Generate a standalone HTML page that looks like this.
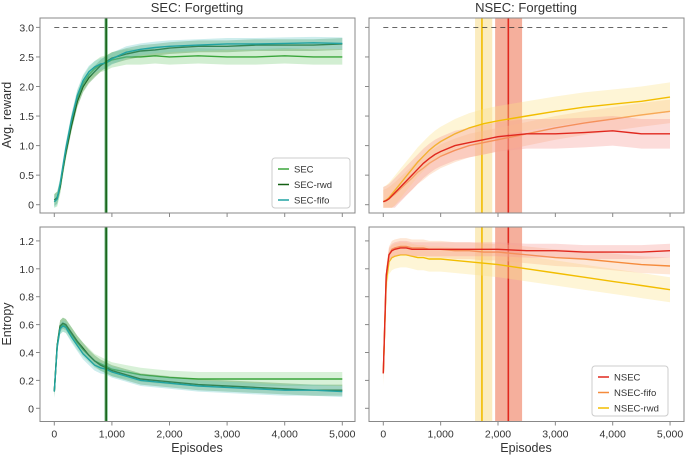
<!DOCTYPE html>
<html><head><meta charset="utf-8">
<style>
html,body{margin:0;padding:0;background:#fff;}
svg{display:block;font-family:"Liberation Sans",sans-serif;}
text{fill:#333;}
</style></head>
<body>
<svg id="chart" width="685" height="457" viewBox="0 0 685 457" xmlns="http://www.w3.org/2000/svg"></svg>
<script>
const episodes = [0,50,100,150,200,300,400,500,600,700,800,900,1000,1250,1500,1750,2000,2500,3000,3500,4000,4500,5000];
const secReward     = [0.05,0.1,0.3,0.6,0.9,1.4,1.8,2.05,2.2,2.3,2.37,2.4,2.45,2.5,2.5,2.52,2.5,2.52,2.5,2.5,2.52,2.5,2.5];
const secRwdReward  = [0.08,0.12,0.3,0.6,0.88,1.35,1.75,2.0,2.15,2.25,2.35,2.42,2.48,2.55,2.6,2.62,2.65,2.68,2.68,2.7,2.7,2.7,2.72];
const secFifoReward = [0.05,0.1,0.35,0.65,0.95,1.45,1.85,2.1,2.25,2.33,2.38,2.4,2.47,2.58,2.63,2.66,2.68,2.7,2.72,2.72,2.73,2.74,2.73];
const secEnt     = [0.12,0.45,0.58,0.6,0.59,0.53,0.47,0.42,0.38,0.34,0.32,0.3,0.28,0.26,0.24,0.23,0.22,0.21,0.21,0.21,0.21,0.21,0.21];
const secRwdEnt  = [0.12,0.45,0.59,0.61,0.6,0.54,0.48,0.43,0.38,0.34,0.31,0.29,0.27,0.24,0.21,0.2,0.19,0.17,0.16,0.15,0.14,0.13,0.13];
const secFifoEnt = [0.12,0.44,0.57,0.59,0.58,0.51,0.45,0.39,0.35,0.31,0.29,0.28,0.26,0.23,0.2,0.19,0.18,0.16,0.15,0.14,0.13,0.13,0.12];
const nsecReward     = [0.05,0.07,0.1,0.15,0.2,0.3,0.4,0.5,0.6,0.7,0.78,0.85,0.9,1.0,1.05,1.1,1.15,1.2,1.2,1.22,1.25,1.2,1.2];
const nsecFifoReward = [0.05,0.07,0.1,0.14,0.18,0.27,0.36,0.45,0.55,0.62,0.7,0.76,0.82,0.92,1.0,1.05,1.1,1.2,1.3,1.38,1.45,1.52,1.58];
const nsecRwdReward  = [0.05,0.08,0.12,0.18,0.24,0.36,0.48,0.6,0.72,0.82,0.92,1.0,1.07,1.2,1.3,1.37,1.42,1.5,1.58,1.65,1.7,1.75,1.82];
const nsecEnt     = [0.25,0.95,1.1,1.13,1.14,1.15,1.15,1.14,1.14,1.14,1.14,1.14,1.14,1.14,1.14,1.14,1.14,1.13,1.13,1.12,1.12,1.12,1.13];
const nsecFifoEnt = [0.25,0.95,1.1,1.14,1.15,1.16,1.16,1.15,1.15,1.15,1.14,1.14,1.14,1.13,1.13,1.12,1.12,1.1,1.08,1.07,1.05,1.03,1.02];
const nsecRwdEnt  = [0.25,0.9,1.05,1.08,1.09,1.1,1.1,1.09,1.08,1.08,1.07,1.07,1.07,1.06,1.05,1.04,1.03,1.0,0.97,0.94,0.91,0.88,0.85];
const rewardTicks = [0,0.5,1.0,1.5,2.0,2.5,3.0];
const rewardTickLabels = ["0","0.5","1.0","1.5","2.0","2.5","3.0"];
const entropyTicks = [0,0.2,0.4,0.6,0.8,1.0,1.2];
const entropyTickLabels = ["0","0.2","0.4","0.6","0.8","1.0","1.2"];
const xTicks = [0,1000,2000,3000,4000,5000];
const xTickLabels = ["0","1,000","2,000","3,000","4,000","5,000"];
const secSwitch = [870,900,930];
const nsecRwdSwitch = [1600,1720,1900];
const nsecSwitch = [1950,2180,2420];

const NS="http://www.w3.org/2000/svg";
const svg=document.getElementById('chart');
function el(tag,attrs,parent){const e=document.createElementNS(NS,tag);for(const k in attrs)e.setAttribute(k,attrs[k]);(parent||svg).appendChild(e);return e;}

const panels={
 tl:{x0:40,x1:355,y0:18,y1:213,xz:54.3,xk:57.6,yz:204.7,yk:59.1},
 tr:{x0:369,x1:684,y0:18,y1:213,xz:383.3,xk:57.35,yz:204.7,yk:59.1},
 bl:{x0:40,x1:355,y0:227,y1:421.5,xz:54.3,xk:57.6,yz:408.3,yk:139.5},
 br:{x0:369,x1:684,y0:227,y1:421.5,xz:383.3,xk:57.35,yz:408.3,yk:139.5}
};
function X(p,v){return p.xz+v/1000*p.xk;}
function Y(p,v){return p.yz-v*p.yk;}

function frame(p,name){
 const r=el('rect',{x:p.x0,y:p.y0,width:p.x1-p.x0,height:p.y1-p.y0,fill:'none',stroke:'#888','stroke-width':1});
 
 
}
function axes(p,name,ticks,labels,showY,showX){
 ticks.forEach((t,i)=>{
  const y=Y(p,t);
  el('line',{x1:p.x0-4,x2:p.x0,y1:y,y2:y,stroke:'#888'});
  if(showY){const tx=el('text',{x:p.x0-6,y:y+4,'text-anchor':'end','font-size':10.5});tx.textContent=labels[i];
   }
 });
 xTicks.forEach((t,i)=>{
  const x=X(p,t);
  el('line',{x1:x,x2:x,y1:p.y1,y2:p.y1+4,stroke:'#888'});
  if(showX){const tx=el('text',{x:x,y:p.y1+16,'text-anchor':'middle','font-size':10.5});tx.textContent=xTickLabels[i];
   }
 });
}
function band(p,sw,color,lineColor,op,name){
 const r=el('rect',{x:X(p,sw[0]),y:p.y0,width:X(p,sw[2])-X(p,sw[0]),height:p.y1-p.y0,fill:color,opacity:op});
 
 const l=el('line',{x1:X(p,sw[1]),x2:X(p,sw[1]),y1:p.y0,y2:p.y1,stroke:lineColor,'stroke-width':1.6});
 
}
function series(p,vals,color,fillc,spread,name){
 let up='',dn='';
 episodes.forEach((e,i)=>{up+=(i?'L':'M')+X(p,e).toFixed(1)+','+Y(p,vals[i]+spread).toFixed(1);});
 for(let i=episodes.length-1;i>=0;i--){dn+='L'+X(p,episodes[i]).toFixed(1)+','+Y(p,Math.max(vals[i]-spread,-0.05)).toFixed(1);}
 const a=el('path',{d:up+dn+'Z',fill:fillc,opacity:0.35,stroke:'none'});
 
 let d='';episodes.forEach((e,i)=>{d+=(i?'L':'M')+X(p,e).toFixed(1)+','+Y(p,vals[i]).toFixed(1);});
 const l=el('path',{d:d,fill:'none',stroke:color,'stroke-width':1.4});
 
}
function dash(p){
 const l=el('line',{x1:X(p,0),x2:X(p,5000),y1:Y(p,3),y2:Y(p,3),stroke:'#333','stroke-dasharray':'5,4','stroke-width':0.8});
 
}
function legend(x,y,w,items,name){
 const g=el('g',{});
 el('rect',{x:x,y:y,width:w,height:50,rx:3,fill:'#fff',stroke:'#ccc'},g);
 items.forEach((it,i)=>{
  const yy=y+11+i*15.5;
  el('line',{x1:x+6,x2:x+17,y1:yy,y2:yy,stroke:it[1],'stroke-width':1.5},g);
  const t=el('text',{x:x+22,y:yy+3.5,'font-size':9.5},g);t.textContent=it[0];
  
 });
}
const G1='#3aa63a',G2='#145f14',T='#21a3a3',R='#e0281e',O='#f58b3c',Yc='#f2bd00';

let p=panels.tl;
dash(p);
series(p,secReward,G1,'#7fcf7f',0.13,'sec-reward');
series(p,secRwdReward,G2,'#3f8f3f',0.1,'sec-rwd-reward');
series(p,secFifoReward,T,'#6fcaca',0.1,'sec-fifo-reward');
band(p,secSwitch,'#2e9a4a','#145f14',0.55,'sec-switch');
frame(p,'top-left');axes(p,'top-left',rewardTicks,rewardTickLabels,true,false);
legend(272,158,78,[['SEC',G1],['SEC-rwd',G2],['SEC-fifo',T]],'sec-legend');

p=panels.tr;
band(p,nsecRwdSwitch,'#f5d060',Yc,0.4,'nsec-rwd-switch');
band(p,nsecSwitch,'#ee7a5a',R,0.6,'nsec-switch');
dash(p);
series(p,nsecFifoReward,O,'#fbb98a',0.2,'nsec-fifo-reward');
series(p,nsecRwdReward,Yc,'#fde28a',0.25,'nsec-rwd-reward');
series(p,nsecReward,R,'#f59a94',0.25,'nsec-reward');
frame(p,'top-right');axes(p,'top-right',rewardTicks,rewardTickLabels,false,false);

p=panels.bl;
series(p,secEnt,G1,'#8fd88f',0.05,'sec-entropy');
series(p,secRwdEnt,G2,'#3f8f3f',0.04,'sec-rwd-entropy');
series(p,secFifoEnt,T,'#6fcaca',0.04,'sec-fifo-entropy');
band(p,secSwitch,'#2e9a4a','#145f14',0.55,'sec-switch-bottom');
frame(p,'bottom-left');axes(p,'bottom-left',entropyTicks,entropyTickLabels,true,true);

p=panels.br;
band(p,nsecRwdSwitch,'#f5d060',Yc,0.4,'nsec-rwd-switch-bottom');
band(p,nsecSwitch,'#ee7a5a',R,0.6,'nsec-switch-bottom');
series(p,nsecRwdEnt,Yc,'#fde28a',0.09,'nsec-rwd-entropy');
series(p,nsecFifoEnt,O,'#fbb98a',0.06,'nsec-fifo-entropy');
series(p,nsecEnt,R,'#f59a94',0.05,'nsec-entropy');
frame(p,'bottom-right');axes(p,'bottom-right',entropyTicks,entropyTickLabels,false,true);
legend(592,366,76,[['NSEC',R],['NSEC-fifo',O],['NSEC-rwd',Yc]],'nsec-legend');

function txt(x,y,s,size,name,rot){const t=el('text',{x:x,y:y,'text-anchor':'middle','font-size':size});
 if(rot)t.setAttribute('transform','rotate(-90 '+x+' '+y+')');t.textContent=s;
 }
txt(197,12,'SEC: Forgetting',13,'sec-title');
txt(526,12,'NSEC: Forgetting',13,'nsec-title');
txt(197,452,'Episodes',12.5,'x-axis-title-left');
txt(526,452,'Episodes',12.5,'x-axis-title-right');
txt(11,115,'Avg. reward',12.5,'y-axis-title-reward',true);
txt(11,324,'Entropy',12.5,'y-axis-title-entropy',true);
</script>
</body></html>
